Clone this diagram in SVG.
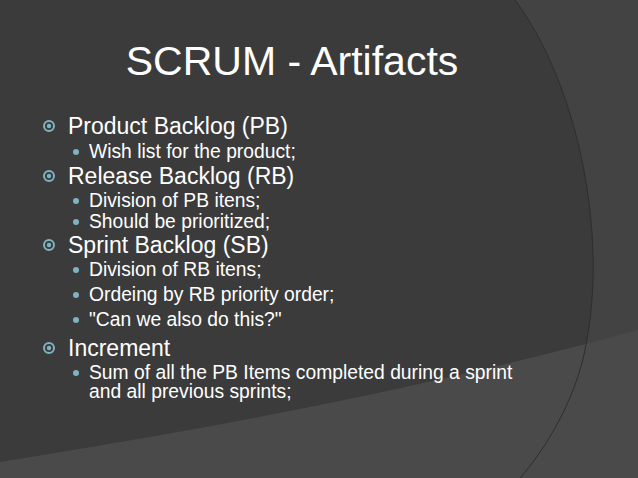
<svg xmlns="http://www.w3.org/2000/svg" width="638" height="478" viewBox="0 0 638 478">
<style>
.t{font-family:"Liberation Sans",Arial,sans-serif;fill:#fff}
.l1{font-size:23px}.l2{font-size:19.3px}
.b1{fill:none;stroke:#7fb3c0;stroke-width:2}
.d{fill:#7fb3c0}
</style>
<rect width="638" height="478" fill="#3b3b3b"/>
<path d="M515,0 C575,80 610,230 585,350 C575,400 545,450 520,478 L638,478 L638,0 Z" fill="#434343"/>
<path d="M0,462 C200,430 420,390 638,330 L638,478 L0,478 Z" fill="#4a4a4a"/>
<path d="M515,0 C575,80 610,230 585,350 C575,400 545,450 520,478" fill="none" stroke="#2e2e2e" stroke-width="1"/>
<g id="title"><text class="t" x="292" y="75" font-size="41" text-anchor="middle">SCRUM - Artifacts</text></g>
<g id="pb">
<circle class="b1" cx="49" cy="126" r="5"/><circle class="d" cx="49" cy="126" r="2.2"/>
<text class="t l1" x="68" y="134">Product Backlog (PB)</text>
<circle class="d" cx="76" cy="152" r="3"/><text class="t l2" x="89" y="158">Wish list for the product;</text>
</g>
<g id="rb">
<circle class="b1" cx="49" cy="176" r="5"/><circle class="d" cx="49" cy="176" r="2.2"/>
<text class="t l1" x="68" y="184">Release Backlog (RB)</text>
<circle class="d" cx="76" cy="201" r="3"/><text class="t l2" x="89" y="207">Division of PB itens;</text>
<circle class="d" cx="76" cy="222" r="3"/><text class="t l2" x="89" y="228">Should be prioritized;</text>
</g>
<g id="sb">
<circle class="b1" cx="49" cy="245" r="5"/><circle class="d" cx="49" cy="245" r="2.2"/>
<text class="t l1" x="68" y="253">Sprint Backlog (SB)</text>
<circle class="d" cx="76" cy="270" r="3"/><text class="t l2" x="89" y="276">Division of RB itens;</text>
<circle class="d" cx="76" cy="295" r="3"/><text class="t l2" x="89" y="301">Ordeing by RB priority order;</text>
<circle class="d" cx="76" cy="320" r="3"/><text class="t l2" x="89" y="326">"Can we also do this?"</text>
</g>
<g id="inc">
<circle class="b1" cx="49" cy="348" r="5"/><circle class="d" cx="49" cy="348" r="2.2"/>
<text class="t l1" x="68" y="356">Increment</text>
<circle class="d" cx="76" cy="373" r="3"/><text class="t l2" x="89" y="379">Sum of all the PB Items completed during a sprint</text>
<text class="t l2" x="89" y="398">and all previous sprints;</text>
</g>
<g id="connectors"/>
</svg>
